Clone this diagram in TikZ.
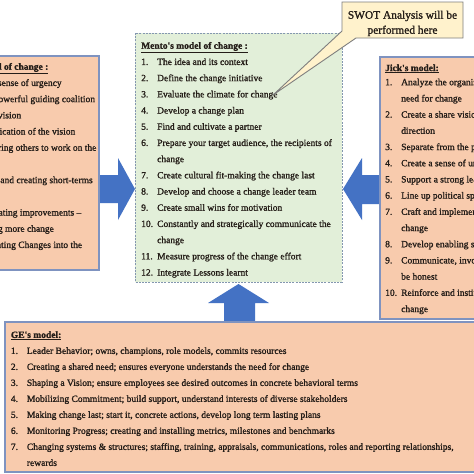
\documentclass[tikz,border=0pt]{standalone}
\usepackage{fontspec}
\setmainfont{Liberation Serif}
\newfontfamily\bodyfont{Liberation Serif}[FakeBold=1.3]
\definecolor{peach}{HTML}{F8CBAD}
\definecolor{peachedge}{HTML}{7F93C0}
\definecolor{mint}{HTML}{E2EFD9}
\definecolor{mintedge}{HTML}{8497B0}
\definecolor{cream}{HTML}{FFF2CC}
\definecolor{creamedge}{HTML}{7F7F7F}
\definecolor{arrowblue}{HTML}{4472C4}
\definecolor{ink}{HTML}{241D18}
\newcommand\lnum[1]{\makebox[16pt][l]{#1}}
\newcommand\lgap{\hspace*{16pt}}
\begin{document}
\begin{tikzpicture}[x=1pt,y=-1pt,
  modelbox/.style={draw=peachedge,fill=peach,line width=1.1pt},
  mentobox/.style={draw=mintedge,fill=mint,line width=0.8pt,dash pattern=on 2pt off 1.2pt},
  listtext/.style={anchor=north west,inner sep=0pt,align=left,text=ink,
    font=\bodyfont\fontsize{9.5}{16.2}\selectfont},
  blockarrow/.style={fill=arrowblue,draw=none},
  callout/.style={draw=creamedge,fill=cream,line width=0.9pt,line join=miter}]
\useasboundingbox (0,0) rectangle (474,474);
\clip (0,0) rectangle (474,474);
\fill[white] (0,0) rectangle (474,474);

% arrows
\coordinate (ltip) at (135,189);
\coordinate (rtip) at (343,189);
\coordinate (utip) at (238.5,284);
\fill[blockarrow] (100,175) -- (118,175) -- (118,158) -- (ltip) -- (118,220) -- (118,203) -- (100,203) -- cycle;
\fill[blockarrow] (380,175) -- (362,175) -- (362,158) -- (rtip) -- (362,220) -- (362,204) -- (380,204) -- cycle;
\fill[blockarrow] (224,323) -- (224,303) -- (208,303) -- (utip) -- (269,303) -- (255,303) -- (255,323) -- cycle;

% Kotter box (left, partly outside)
\draw[modelbox] (-60,56) rectangle (99,270);
\node[listtext] (kotter) at (-52,58.2) {\strut\hspace*{-7pt}\underline{\textbf{Kotter's model of change :}}\\
\lnum{1.}Create a sense of urgency\\
\lnum{2.}Form a powerful guiding coalition\\
\lnum{3.}Create a vision\\
\lnum{4.}Communication of the vision\\
\lnum{5.}Empowering others to work on the\\
\lgap vision\\
\lnum{6.}Planning and creating short-terms\\
\lgap wins\\
\lnum{7.}Consolidating improvements –\\
\lgap producing more change\\
\lnum{8.}Incorporating Changes into the\\
\lgap culture};

% Mento box (centre)
\draw[mentobox] (135,33) rectangle (342,282);
\node[listtext] (mento) at (141,37.2) {\strut\underline{\textbf{Mento's model of change :}}\\
\lnum{1.}The idea and its context\\
\lnum{2.}Define the change initiative\\
\lnum{3.}Evaluate the climate for change\\
\lnum{4.}Develop a change plan\\
\lnum{5.}Find and cultivate a partner\\
\lnum{6.}Prepare your target audience, the recipients of\\
\lgap change\\
\lnum{7.}Create cultural fit-making the change last\\
\lnum{8.}Develop and choose a change leader team\\
\lnum{9.}Create small wins for motivation\\
\lnum{10.}Constantly and strategically communicate the\\
\lgap change\\
\lnum{11.}Measure progress of the change effort\\
\lnum{12.}Integrate Lessons learnt};

% Jick box (right, partly outside)
\draw[modelbox] (380,57) rectangle (490,319);
\node[listtext] (jick) at (385,59.5) {\strut\underline{\textbf{Jick's model:}}\\[-2pt]
\lnum{1.}Analyze the organization and its\\
\lgap need for change\\
\lnum{2.}Create a share vision and common\\
\lgap direction\\
\lnum{3.}Separate from the past\\
\lnum{4.}Create a sense of urgency\\
\lnum{5.}Support a strong leader role\\
\lnum{6.}Line up political sponsorship\\
\lnum{7.}Craft and implement a plan for\\
\lgap change\\
\lnum{8.}Develop enabling structures\\
\lnum{9.}Communicate, involve people and\\
\lgap be honest\\
\lnum{10.}Reinforce and institutionalize\\
\lgap change};

% GE box (bottom)
\draw[modelbox] (5,322) rectangle (490,472);
\node[listtext,font=\bodyfont\fontsize{9.5}{16}\selectfont] (ge) at (10.7,326.5) {\strut\underline{\textbf{GE's model:}}\\
\lnum{1.}Leader Behavior; owns, champions, role models, commits resources\\
\lnum{2.}Creating a shared need; ensures everyone understands the need for change\\
\lnum{3.}Shaping a Vision; ensure employees see desired outcomes in concrete behavioral terms\\
\lnum{4.}Mobilizing Commitment; build support, understand interests of diverse stakeholders\\
\lnum{5.}Making change last; start it, concrete actions, develop long term lasting plans\\
\lnum{6.}Monitoring Progress; creating and installing metrics, milestones and benchmarks\\
\lnum{7.}Changing systems \& structures; staffing, training, appraisals, communications, roles and reporting relationships,\\
\lgap rewards};

% SWOT callout
\coordinate (swottip) at (273,95);
\draw[callout] (342,2) -- (463,2) -- (463,38) -- (356,38) -- (swottip) -- (342,31) -- cycle;
\node[anchor=north,inner sep=0pt,align=center,text=ink,
  font=\bodyfont\fontsize{11.4}{15}\selectfont] (swot) at (402.5,8) {\strut SWOT Analysis will be\\performed here};
\end{tikzpicture}
\end{document}
